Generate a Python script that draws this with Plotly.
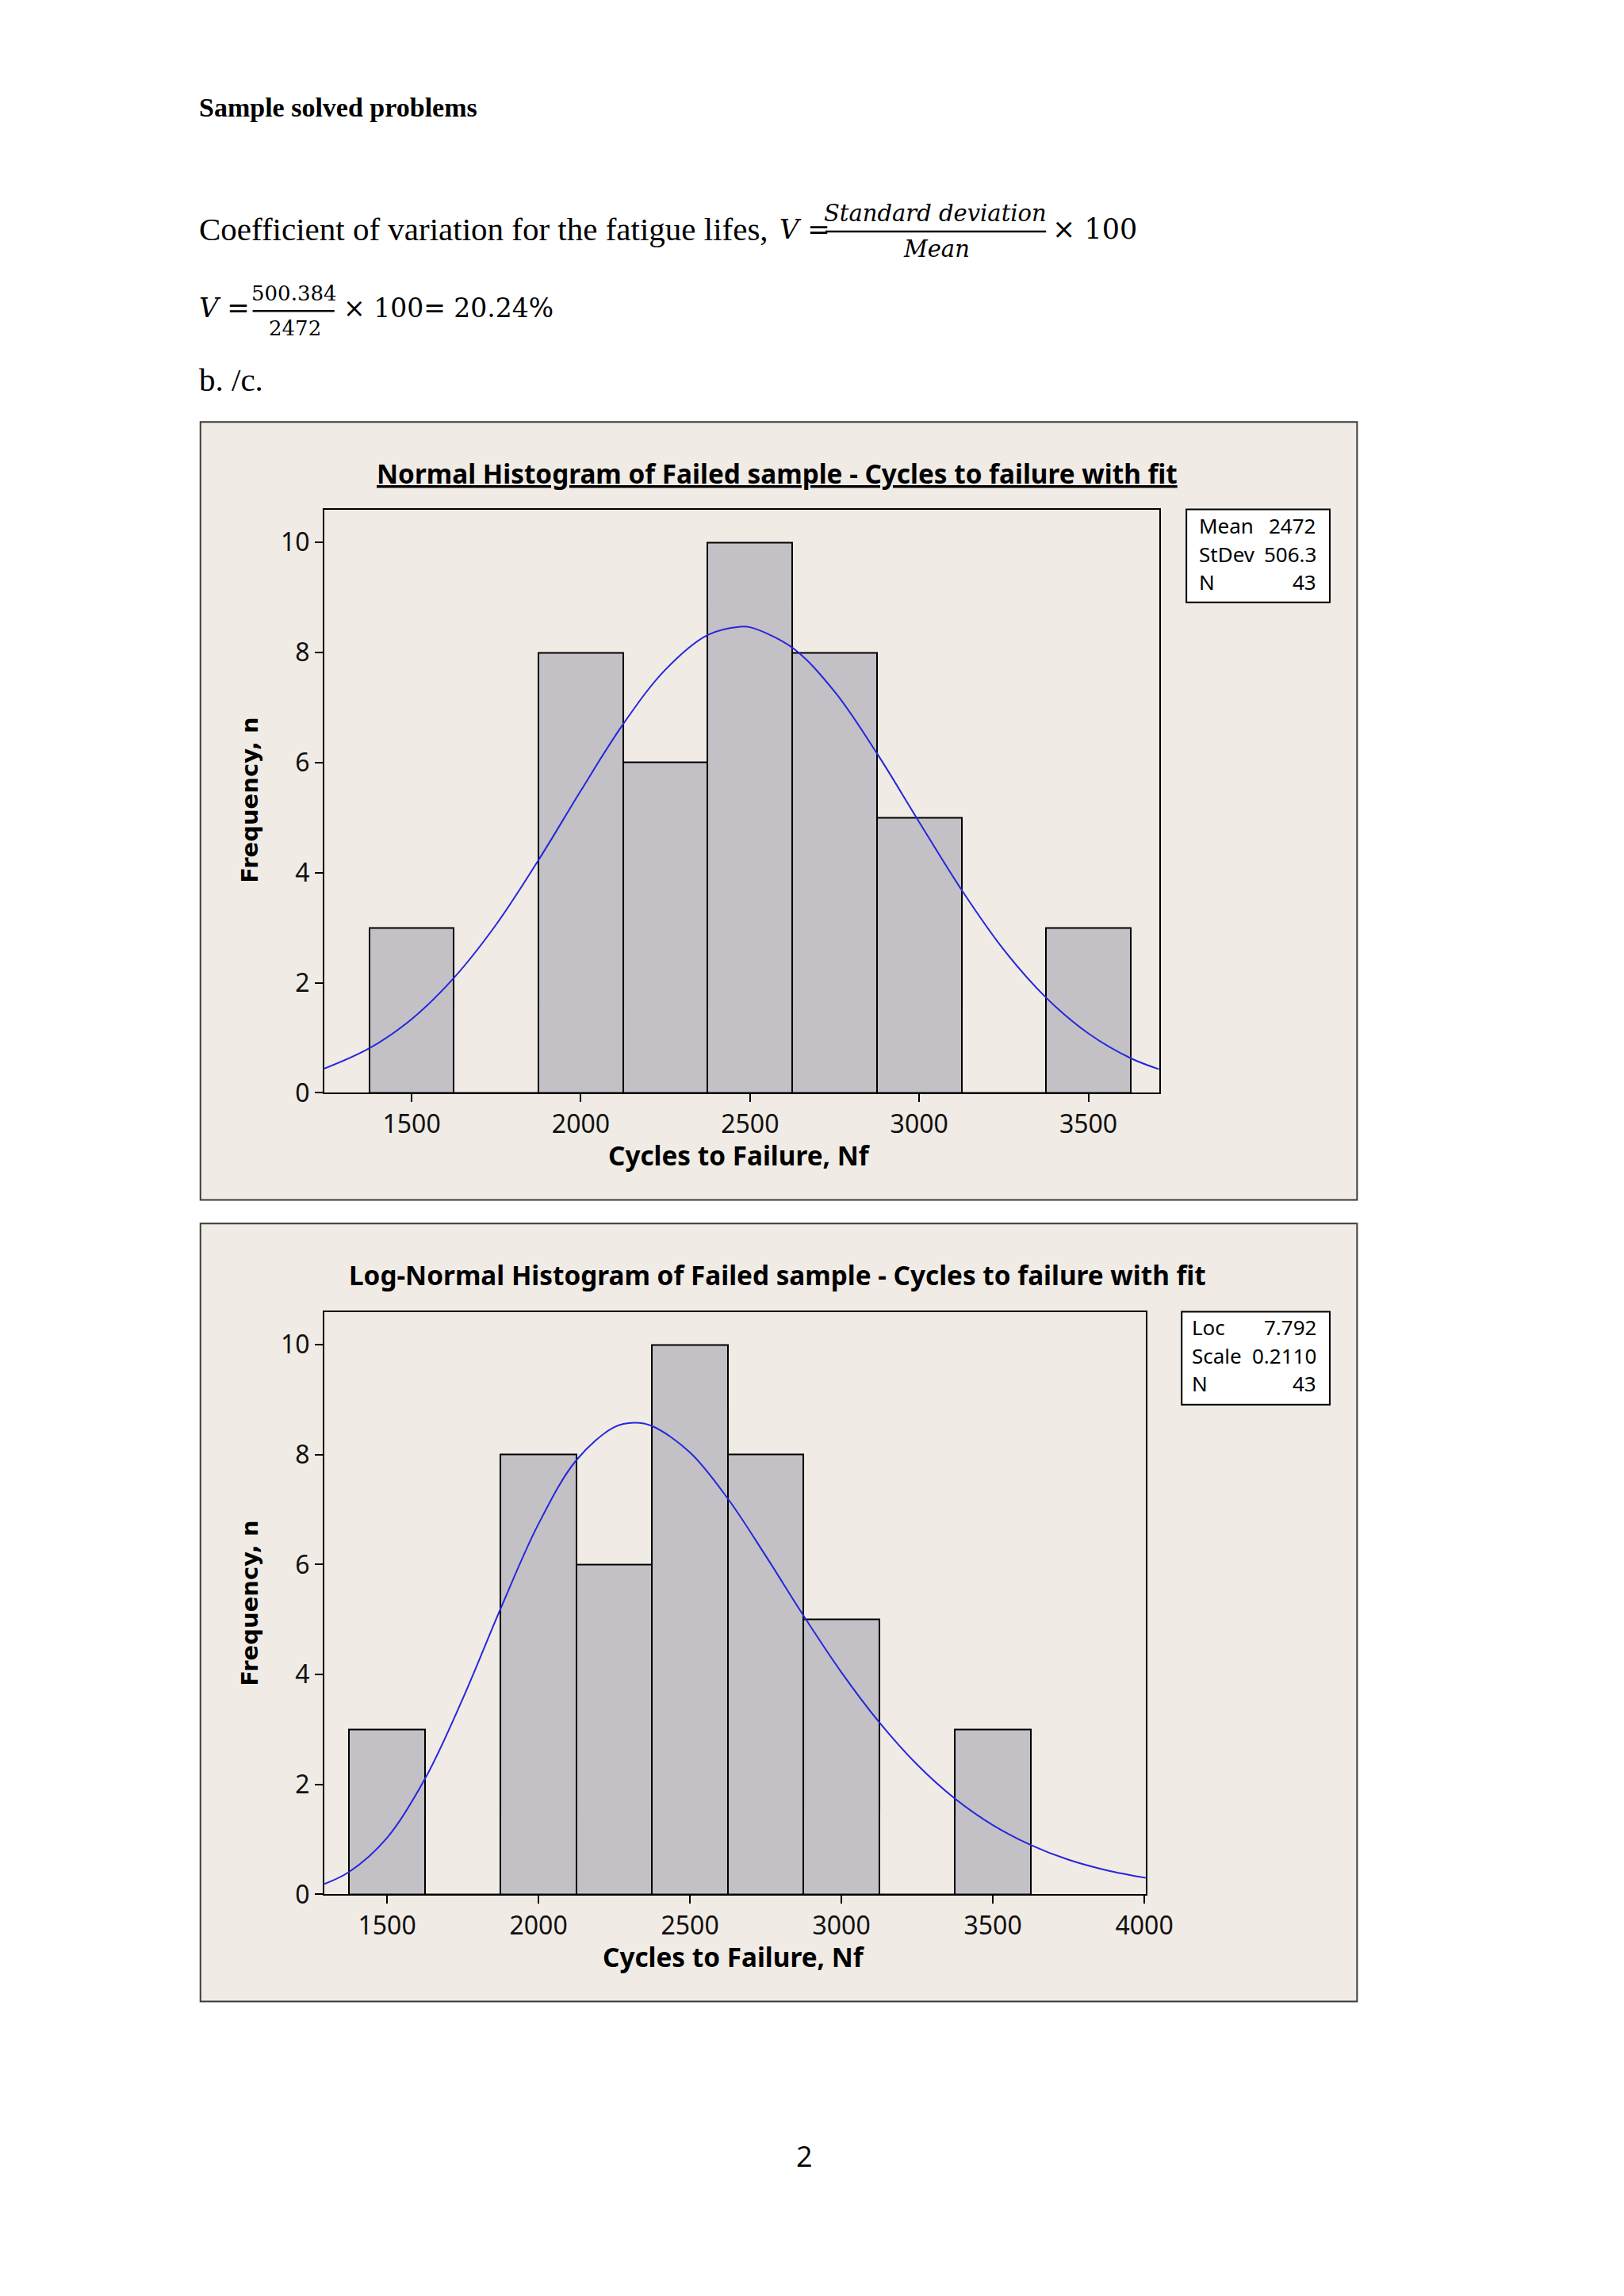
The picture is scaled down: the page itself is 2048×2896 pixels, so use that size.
import plotly.graph_objects as go

W, H = 2048, 2896


def px(x):
    return x / W


def py(y):
    return 1 - y / H


# ---------------- data ----------------
bin_centers = [1500, 1750, 2000, 2250, 2500, 2750, 3000, 3250, 3500]
counts = [3, 0, 8, 6, 10, 8, 5, 0, 3]
bin_width = 250

# fitted curves, values
normal_fit_x = [1242, 1375, 1500, 1625, 1750, 1875, 2000, 2125, 2250, 2375, 2472,
                2500, 2625, 2750, 2875, 3000, 3125, 3250, 3375, 3500, 3625, 3709]
normal_fit_y = [0.44, 0.81, 1.34, 2.09, 3.06, 4.23, 5.49, 6.70, 7.69, 8.32, 8.47,
                8.46, 8.09, 7.29, 6.17, 4.92, 3.69, 2.60, 1.73, 1.08, 0.63, 0.43]

lognormal_fit_x = [1293, 1375, 1500, 1625, 1750, 1875, 2000, 2125, 2250, 2316, 2375,
                   2500, 2625, 2750, 2875, 3000, 3125, 3250, 3375, 3500, 3625, 3750,
                   3875, 4005]
lognormal_fit_y = [0.19, 0.41, 1.03, 2.10, 3.56, 5.20, 6.74, 7.90, 8.50, 8.58, 8.52,
                   8.04, 7.20, 6.16, 5.07, 4.04, 3.13, 2.36, 1.74, 1.26, 0.90, 0.63,
                   0.44, 0.30]

x_ticks_1 = [1500, 2000, 2500, 3000, 3500]
x_ticks_2 = [1500, 2000, 2500, 3000, 3500, 4000]
y_ticks = [0, 2, 4, 6, 8, 10]

normal_stats_labels = ["Mean", "StDev", "N"]
normal_stats_values = ["2472", "506.3", "43"]
lognormal_stats_labels = ["Loc", "Scale", "N"]
lognormal_stats_values = ["7.792", "0.2110", "43"]

title_1 = "Normal Histogram of Failed sample - Cycles to failure with fit"
title_2 = "Log-Normal Histogram of Failed sample - Cycles to failure with fit"
x_title = "Cycles to Failure, Nf"
y_title = "Frequency, n"

# ---------------- styles ----------------
BAR_COLOR = "#C3C1C5"
FIT_COLOR = "#2626DC"
PANEL_COLOR = "#F0EBE5"
MT_FONT = "Noto Sans"
SERIF = "Liberation Serif"
MATH = "DejaVu Serif"

fig = go.Figure()

fig.add_trace(go.Bar(x=bin_centers, y=counts, width=bin_width,
                     marker=dict(color=BAR_COLOR, line=dict(color="black", width=2)),
                     xaxis="x", yaxis="y", showlegend=False, hoverinfo="skip"))
fig.add_trace(go.Scatter(x=normal_fit_x, y=normal_fit_y, mode="lines",
                         line=dict(color=FIT_COLOR, width=2, shape="spline"),
                         xaxis="x", yaxis="y", showlegend=False, hoverinfo="skip"))
fig.add_trace(go.Bar(x=bin_centers, y=counts, width=bin_width,
                     marker=dict(color=BAR_COLOR, line=dict(color="black", width=2)),
                     xaxis="x2", yaxis="y2", showlegend=False, hoverinfo="skip"))
fig.add_trace(go.Scatter(x=lognormal_fit_x, y=lognormal_fit_y, mode="lines",
                         line=dict(color=FIT_COLOR, width=2, shape="spline"),
                         xaxis="x2", yaxis="y2", showlegend=False, hoverinfo="skip"))

axis_common = dict(showline=True, mirror=True, linecolor="black", linewidth=2,
                   ticks="outside", ticklen=10, tickwidth=2, tickcolor="black",
                   showgrid=False, zeroline=False,
                   tickfont=dict(family=MT_FONT, size=32, color="#111111"))

fig.update_layout(
    width=W, height=H,
    margin=dict(l=0, r=0, t=0, b=0),
    paper_bgcolor="white", plot_bgcolor="white",
    bargap=0,
    xaxis=dict(domain=[px(408), px(1479)], range=[1242, 3709], tickvals=x_ticks_1,
               anchor="y", **axis_common),
    yaxis=dict(domain=[py(1380), py(639)], range=[0, 10.6], tickvals=y_ticks,
               anchor="x", **axis_common),
    xaxis2=dict(domain=[px(408), px(1462)], range=[1293, 4005], tickvals=x_ticks_2,
                anchor="y2", **axis_common),
    yaxis2=dict(domain=[py(2398), py(1658)], range=[0, 10.6], tickvals=y_ticks,
                anchor="x2", **axis_common),
)

shapes = []
# beige panels
for top, bottom in [(528, 1516), (1546, 2534)]:
    shapes.append(dict(type="rect", xref="paper", yref="paper",
                       x0=px(249), x1=px(1733), y0=py(bottom), y1=py(top),
                       fillcolor=PANEL_COLOR, line=dict(color="#3A3A3A", width=2),
                       layer="below"))
# stats boxes
shapes.append(dict(type="rect", xref="paper", yref="paper",
                   x0=px(1514), x1=px(1698), y0=py(757), y1=py(639),
                   fillcolor="white", line=dict(color="black", width=2)))
shapes.append(dict(type="rect", xref="paper", yref="paper",
                   x0=px(1508), x1=px(1698), y0=py(1776), y1=py(1658),
                   fillcolor="white", line=dict(color="black", width=2)))
# fraction bars
shapes.append(dict(type="line", xref="paper", yref="paper",
                   x0=px(1051), x1=px(1334), y0=py(286), y1=py(286),
                   line=dict(color="black", width=2.5)))
shapes.append(dict(type="line", xref="paper", yref="paper",
                   x0=px(316), x1=px(421), y0=py(387), y1=py(387),
                   line=dict(color="black", width=2.5)))
fig.update_layout(shapes=shapes)

ann = []


def text(t, x, y, size, family, xanchor="left", yanchor="middle", bold=False,
         italic=False, angle=0, underline=False):
    font = dict(family=family, size=size, color="black")
    if bold:
        font["weight"] = "bold"
    if italic:
        font["style"] = "italic"
    if underline:
        font["lineposition"] = "under"
    ann.append(dict(text=t, x=px(x), y=py(y), xref="paper", yref="paper",
                    showarrow=False, xanchor=xanchor, yanchor=yanchor,
                    font=font, textangle=angle))


# document text
text("Sample solved problems", 245, 128, 34, SERIF, bold=True)
text("Coefficient of variation for the fatigue lifes,", 245, 283, 41, SERIF)
text("<i>V</i> =", 990, 283, 34, MATH)
text("Standard deviation", 1192, 263, 29, MATH, xanchor="center", italic=True)
text("Mean", 1193, 308, 29, MATH, xanchor="center", italic=True)
text("× 100", 1340, 283, 35, MATH)
text("<i>V</i> =", 245, 383, 34, MATH)
text("500.384", 369, 365, 26, MATH, xanchor="center")
text("2472", 370, 409, 26, MATH, xanchor="center")
text("× 100= 20.24%", 430, 383, 33, MATH)
text("b. /c.", 245, 474, 41, SERIF)
text("2", 1024, 2730, 36, "Open Sans", xanchor="center")

# chart titles
text(title_1, 989, 593, 33.3, MT_FONT, xanchor="center", bold=True, underline=True)
text(title_2, 989, 1611, 33.3, MT_FONT, xanchor="center", bold=True)
text(x_title, 941, 1459, 33.3, MT_FONT, xanchor="center", bold=True)
text(x_title, 933, 2477, 33.3, MT_FONT, xanchor="center", bold=True)
text(y_title, 312, 1008, 29, "DejaVu Sans", xanchor="center", bold=True, angle=-90)
text(y_title, 312, 2028, 29, "DejaVu Sans", xanchor="center", bold=True, angle=-90)

# stats boxes
for labels, values, lx, rows in [
        (normal_stats_labels, normal_stats_values, 1528, [660, 696, 731]),
        (lognormal_stats_labels, lognormal_stats_values, 1519, [1678, 1714, 1749])]:
    for lab, val, yy in zip(labels, values, rows):
        text(lab, lx, yy, 26, MT_FONT)
        text(val, 1683, yy, 26, MT_FONT, xanchor="right")

fig.update_layout(annotations=ann)

fig.write_html("out.html")
